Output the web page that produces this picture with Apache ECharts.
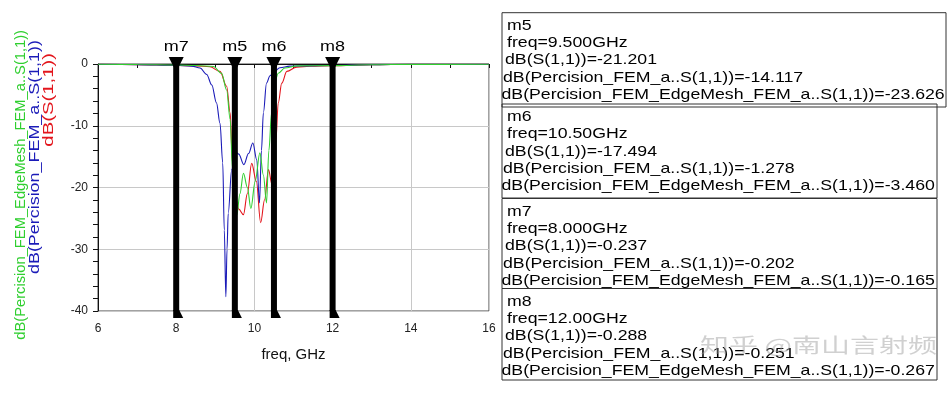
<!DOCTYPE html>
<html>
<head>
<meta charset="utf-8">
<title>S11</title>
<script src="https://cdn.jsdelivr.net/npm/echarts@6/dist/echarts.min.js"></script>
<style>
html, body { margin: 0; padding: 0; background: #fff; }
#main { width: 950px; height: 397px; }
</style>
</head>
<body>
<div id="main"></div>
<script>
// dB(S(1,1)) - red
var s11Freq = [6, 7, 8, 8.5, 8.86, 9.12, 9.29, 9.38, 9.44, 9.5, 9.6, 9.72, 9.82, 9.93, 10.05, 10.16, 10.26, 10.36, 10.45, 10.5, 10.55, 10.61, 10.7, 10.83, 11.08, 11.42, 12, 13, 14, 16];
var s11DB = [-0.05, -0.1, -0.237, -0.3, -0.45, -1.2, -3.6, -7.9, -16, -21.2, -23.5, -24.4, -21, -16.1, -19, -25.7, -22, -17.1, -19.5, -17.5, -12.3, -6.3, -3.1, -1.2, -0.5, -0.35, -0.288, -0.12, -0.06, -0.03];
// dB(Percision_FEM_a..S(1,1)) - blue
var femFreq = [6, 7, 8, 8.4, 8.61, 8.78, 8.91, 9.03, 9.12, 9.19, 9.23, 9.27, 9.3, 9.33, 9.42, 9.5, 9.6, 9.73, 9.85, 9.96, 10.06, 10.13, 10.18, 10.23, 10.31, 10.4, 10.5, 10.65, 10.91, 11.3, 12, 13, 14, 16];
var femDB = [-0.05, -0.1, -0.202, -0.35, -0.65, -1.7, -3.4, -6.3, -9.6, -16, -26.9, -37.7, -30, -24.2, -17.1, -14.1, -14.6, -16.3, -14.5, -12.8, -15.5, -22.5, -14, -7.9, -3.1, -1.9, -1.278, -0.6, -0.35, -0.3, -0.251, -0.12, -0.06, -0.03];
// dB(Percision_FEM_EdgeMesh_FEM_a..S(1,1)) - green
var edgeFreq = [6, 7, 8, 8.5, 8.95, 9.16, 9.29, 9.38, 9.44, 9.5, 9.55, 9.63, 9.72, 9.82, 9.91, 10.02, 10.14, 10.23, 10.31, 10.37, 10.44, 10.5, 10.61, 10.78, 11.08, 12, 13, 14, 16];
var edgeDB = [-0.04, -0.08, -0.165, -0.25, -0.4, -1.5, -4.2, -9, -17.1, -23.6, -24.5, -21, -17.7, -20, -23.4, -19, -14.4, -18, -22.5, -14, -7.9, -3.46, -1.5, -0.65, -0.3, -0.267, -0.12, -0.06, -0.03];

// markers
var markerNames = ['m5', 'm6', 'm7', 'm8'];
var markerFreqs = [9.5, 10.5, 8, 12];
var markerFreqText = ['9.500GHz', '10.50GHz', '8.000GHz', '12.00GHz'];
var markerS11 = [-21.201, -17.494, -0.237, -0.288];
var markerFem = [-14.117, -1.278, -0.202, -0.251];
var markerEdge = [-23.626, -3.460, -0.165, -0.267];

var xTicks = [6, 8, 10, 12, 14, 16];
var yTicks = [0, -10, -20, -30, -40];

var FONT = '"Liberation Sans", Arial, sans-serif';
var RED = '#e3151c', BLUE = '#1b1bb8', GREEN = '#2fcf2f';

function pairs(xs, ys) {
	var out = [];
	for (var i = 0; i < xs.length; i++) out.push([xs[i], ys[i]]);
	return out;
}

function curve(name, color, xs, ys) {
	return {
		name: name,
		type: 'line',
		data: pairs(xs, ys),
		showSymbol: false,
		smooth: 0.35,
		smoothMonotone: 'x',
		lineStyle: { color: color, width: 1.1 },
		silent: true
	};
}

// marker boxes on the right
var boxTops = [12.7, 104, 198.5, 288.5];
var boxHeights = [94.3, 94, 90, 91.5];
var boxWidths = [444, 435, 435, 435];
var lineX = [507, 507, 505, 503, 501.5];
var graphics = [];
for (var b = 0; b < markerNames.length; b++) {
	graphics.push({
		type: 'rect',
		shape: { x: 502, y: boxTops[b], width: boxWidths[b], height: boxHeights[b] },
		style: { fill: null, stroke: '#333', lineWidth: 1 }
	});
	var lines = [
		markerNames[b],
		'freq=' + markerFreqText[b],
		'dB(S(1,1))=' + markerS11[b].toFixed(3),
		'dB(Percision_FEM_a..S(1,1))=' + markerFem[b].toFixed(3),
		'dB(Percision_FEM_EdgeMesh_FEM_a..S(1,1))=' + markerEdge[b].toFixed(3)
	];
	for (var l = 0; l < lines.length; l++) {
		graphics.push({
			type: 'text',
			x: lineX[l],
			y: boxTops[b] + 13 + l * 17.3,
			scaleX: 1.18,
			style: { text: lines[l], fontSize: 15, fontFamily: FONT, fill: '#000', align: 'left', verticalAlign: 'middle' }
		});
	}
}
// y axis titles (rotated, each stretched to the length it has in the picture)
var yTitles = [
	{ text: 'dB(Percision_FEM_EdgeMesh_FEM_a..S(1,1))', color: GREEN, x: 21, y: 30, stretch: 1.05 },
	{ text: 'dB(Percision_FEM_a..S(1,1))', color: BLUE, x: 35, y: 40, stretch: 1.28 },
	{ text: 'dB(S(1,1))', color: RED, x: 49, y: 53, stretch: 1.45 }
];
yTitles.forEach(function(t) {
	graphics.push({
		type: 'group',
		x: t.x,
		y: t.y,
		rotation: Math.PI / 2,
		children: [{
			type: 'text',
			scaleX: t.stretch,
			style: { text: t.text, fontSize: 14, fontFamily: FONT, fill: t.color, align: 'right', verticalAlign: 'middle' }
		}]
	});
});
// watermark
graphics.push({
	type: 'text',
	x: 700,
	y: 345,
	scaleX: 1.45,
	style: { text: '知乎 @南山言射频', fontSize: 20, fontFamily: '"Noto Sans CJK SC", sans-serif', fill: 'rgba(150,150,150,0.45)', align: 'left', verticalAlign: 'middle' }
});

var myChart = echarts.init(document.getElementById('main'));

var option = {
	animation: false,
	textStyle: { fontFamily: FONT },
	grid: {
		left: 98,
		right: 461,
		top: 64,
		bottom: 86,
		show: true,
		borderColor: '#444',
		borderWidth: 1
	},
	xAxis: {
		type: 'value',
		min: 6,
		max: 16,
		interval: 2,
		name: 'freq, GHz',
		nameLocation: 'middle',
		nameGap: 36,
		nameTextStyle: { fontSize: 15, color: '#111', fontFamily: FONT },
		axisLine: { show: true, lineStyle: { color: '#111', width: 1 } },
		axisTick: { show: true, length: 4, lineStyle: { color: '#111' } },
		minorTick: { show: true, splitNumber: 2, length: 4, lineStyle: { color: '#111' } },
		splitLine: { show: true, lineStyle: { color: '#c8c8c8', width: 1 } },
		axisLabel: {
			fontSize: 12, color: '#222', margin: 12,
			formatter: function(v) { return xTicks.indexOf(v) >= 0 ? String(v) : ''; }
		}
	},
	yAxis: {
		type: 'value',
		min: -40,
		max: 0,
		interval: 10,
		axisLine: { show: true, lineStyle: { color: '#111', width: 1 } },
		axisTick: { show: true, length: 5, lineStyle: { color: '#111' } },
		minorTick: { show: true, splitNumber: 5, length: 5, lineStyle: { color: '#111' } },
		splitLine: { show: true, lineStyle: { color: '#c8c8c8', width: 1 } },
		axisLabel: {
			fontSize: 12, color: '#222', margin: 10,
			formatter: function(v) { return yTicks.indexOf(v) >= 0 ? String(v) : ''; }
		}
	},
	series: [
		curve('dB(S(1,1))', RED, s11Freq, s11DB),
		curve('dB(Percision_FEM_a..S(1,1))', BLUE, femFreq, femDB),
		curve('dB(Percision_FEM_EdgeMesh_FEM_a..S(1,1))', GREEN, edgeFreq, edgeDB),
		{
			// marker bars with triangles and labels
			type: 'custom',
			silent: true,
			z: 10,
			data: markerFreqs.map(function(f, i) { return [f, 0, -40, i]; }),
			renderItem: function(params, api) {
				var top = api.coord([api.value(0), api.value(1)]);
				var bot = api.coord([api.value(0), api.value(2)]);
				var x = top[0], y0 = top[1], y1 = bot[1];
				var name = markerNames[api.value(3)];
				return {
					type: 'group',
					children: [
						{ type: 'rect', shape: { x: x - 3, y: y0, width: 6, height: y1 - y0 }, style: { fill: '#000' } },
						{ type: 'polygon', shape: { points: [[x - 7.5, y0 - 7], [x + 7.5, y0 - 7], [x, y0 + 8]] }, style: { fill: '#000' } },
						{ type: 'polygon', shape: { points: [[x - 3, y1 - 1], [x + 3, y1 - 1], [x + 7, y1 + 7], [x - 3, y1 + 7]] }, style: { fill: '#000' } },
						{ type: 'text', x: x, y: y0 - 10, scaleX: 1.2, style: { text: name, fontSize: 15, fontFamily: FONT, fill: '#000', align: 'center', verticalAlign: 'bottom' } }
					]
				};
			}
		}
	],
	graphic: graphics
};

myChart.setOption(option);
</script>
</body>
</html>
